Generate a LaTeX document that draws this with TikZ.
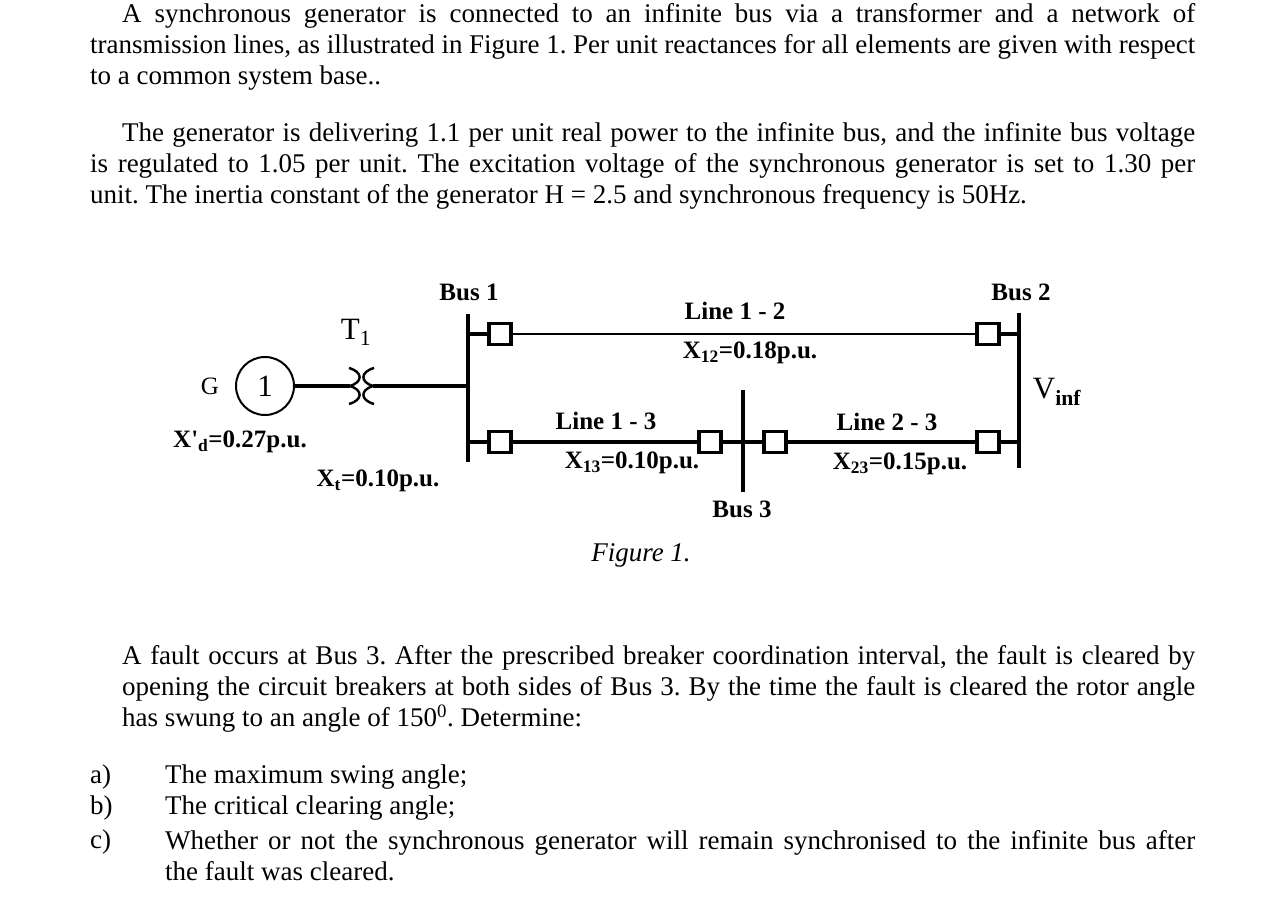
\documentclass[tikz,border=0pt]{standalone}
\usepackage{fontspec}
\setmainfont{Liberation Serif}
\begin{document}
\frenchspacing
\begin{tikzpicture}[x=1pt,y=-1pt,
  txt/.style={anchor=north west,inner sep=0pt,align=justify,font=\fontsize{27}{31.2}\selectfont\frenchspacing},
  lbl/.style={inner sep=0pt,font=\fontsize{25}{26}\selectfont\bfseries},
  wire/.style={line width=3.6pt},
  cb/.style={draw,line width=3.4pt,minimum width=22pt,minimum height=21pt,inner sep=0pt,fill=white}]
\useasboundingbox (0,0) rectangle (1282,917);
\node[txt,text width=1105pt] (p1) at (90,3) {\hspace*{32pt}A synchronous generator is connected to an infinite bus via a transformer and a network of\linebreak transmission lines, as illustrated in Figure 1. Per unit reactances for all elements are given with respect\linebreak to a common system base..};
\node[txt,text width=1105pt] (p2) at (90,122) {\hspace*{32pt}The generator is delivering 1.1 per unit real power to the infinite bus, and the infinite bus voltage\linebreak is regulated to 1.05 per unit. The excitation voltage of the synchronous generator is set to 1.30 per\linebreak unit. The inertia constant of the generator H = 2.5 and synchronous frequency is 50Hz.};
\node[txt,text width=1073pt] (p3) at (122,645) {A fault occurs at Bus 3. After the prescribed breaker coordination interval, the fault is cleared by\linebreak opening the circuit breakers at both sides of Bus 3. By the time the fault is cleared the rotor angle\linebreak has swung to an angle of 150\textsuperscript{0}. Determine:};
\node[txt] (la) at (90,765) {a)};
\node[txt] (ta) at (165,765) {The maximum swing angle;};
\node[txt] (lb) at (90,796) {b)};
\node[txt] (tb) at (165,796) {The critical clearing angle;};
\node[txt] (lc) at (90,830) {c)};
\node[txt,text width=1030pt] (tc) at (165,830) {Whether or not the synchronous generator will remain synchronised to the infinite bus after\linebreak the fault was cleared.};
% buses
\coordinate (b1t) at (468,314); \coordinate (b1b) at (468,462);
\coordinate (b2t) at (1019,313); \coordinate (b2b) at (1019,468);
\coordinate (b3t) at (743,390); \coordinate (b3b) at (743,492);
\draw[wire] (b1t) -- (b1b);
\draw[wire] (b2t) -- (b2b);
\draw[wire] (b3t) -- (b3b);
% generator
\node[draw,circle,line width=2pt,minimum size=58pt,inner sep=0pt,font=\fontsize{31}{31}\selectfont] (gen) at (265,386) {1};
\coordinate (tl) at (350,386); \coordinate (tr) at (373,386);
\draw[wire] (gen.east) -- (tl);
\draw[wire] (tr) -- (468,386);
\draw[line width=2.4pt] (349,368) .. controls (363,372) and (363,382) .. (tl) .. controls (363,390) and (363,400) .. (349,404);
\draw[line width=2.4pt] (374,368) .. controls (360,372) and (360,382) .. (tr) .. controls (360,390) and (360,400) .. (374,404);
% lines
\node[cb] (c1) at (500,334) {};
\node[cb] (c2) at (988,334) {};
\node[cb] (c3) at (500,442) {};
\node[cb] (c4) at (710,442) {};
\node[cb] (c5) at (775,442) {};
\node[cb] (c6) at (988,442) {};
\draw[wire] (468,334) -- (c1.west);
\draw[line width=2.6pt] (c1.east) -- (c2.west);
\draw[wire] (c2.east) -- (1019,334);
\draw[wire] (468,442) -- (c3.west);
\draw[wire] (c3.east) -- (c4.west);
\draw[wire] (c4.east) -- (c5.west);
\draw[wire] (c5.east) -- (c6.west);
\draw[wire] (c6.east) -- (1019,442);
% labels
\node[lbl] (l1) at (469,292) {Bus 1};
\node[lbl] (l2) at (1021,292) {Bus 2};
\node[lbl] (l3) at (742,509) {Bus 3};
\node[lbl] (l12) at (735,311) {Line 1 - 2};
\node[lbl] (x12) at (750,353) {X\textsubscript{12}=0.18p.u.};
\node[lbl] (l13) at (606,421) {Line 1 - 3};
\node[lbl] (x13) at (632,463) {X\textsubscript{13}=0.10p.u.};
\node[lbl] (l23) at (887,422) {Line 2 - 3};
\node[lbl] (x23) at (900,464) {X\textsubscript{23}=0.15p.u.};
\node[lbl] (xd) at (240,442) {X\textquotesingle\textsubscript{d}=0.27p.u.};
\node[lbl] (xt) at (378,481) {X\textsubscript{t}=0.10p.u.};
\node[inner sep=0pt,font=\fontsize{31}{31}\selectfont] (vinf) at (1057,392) {V\textsubscript{\bfseries inf}};
\node[inner sep=0pt,font=\fontsize{31}{31}\selectfont] (t1) at (356,332) {T\textsubscript{1}};
\node[inner sep=0pt,font=\fontsize{25}{25}\selectfont] (g) at (210,386) {G};
\node[inner sep=0pt,font=\fontsize{27}{27}\selectfont\itshape] (fig) at (641,555) {Figure 1.};
\end{tikzpicture}
\end{document}
